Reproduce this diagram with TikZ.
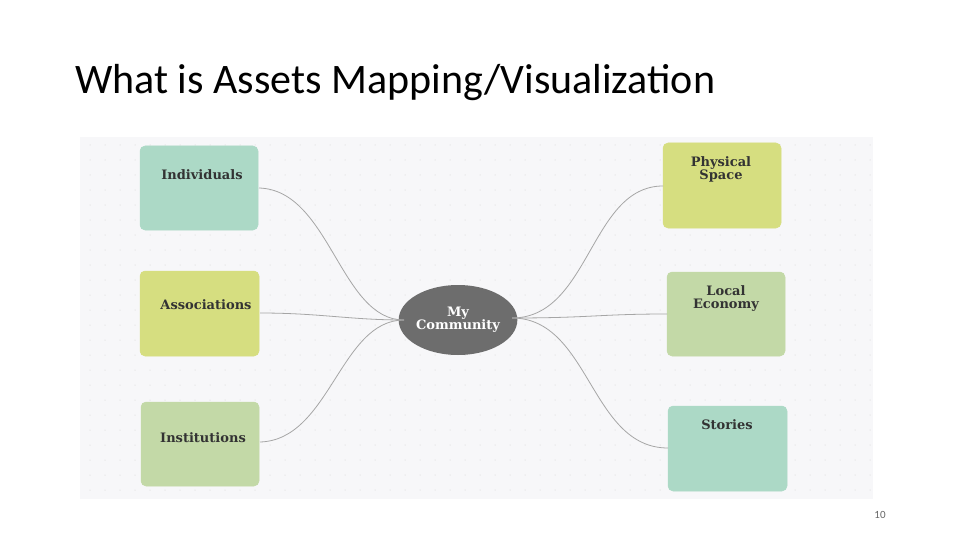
\documentclass[tikz,border=0pt]{standalone}
\usepackage{fontspec}
\usetikzlibrary{shapes.geometric}
\setmainfont{Carlito}
\newfontfamily\boxfont{DejaVu Serif}
\definecolor{teal1}{HTML}{ACD9C6}
\definecolor{ylw}{HTML}{D6DE80}
\definecolor{grn}{HTML}{C3D9A7}
\definecolor{panel}{HTML}{F7F7F9}
\definecolor{cgray}{HTML}{6D6D6D}
\begin{document}
\begin{tikzpicture}[x=1pt,y=-1pt,
  box/.style={rounded corners=5pt,draw=white,line width=0.5pt},
  lbl/.style={font=\boxfont\bfseries\fontsize{13}{13}\selectfont,text=black!80,align=center},
  conn/.style={draw=black!35,line width=0.8pt}]
\useasboundingbox (0,0) rectangle (960,540);
\fill[white] (0,0) rectangle (960,540);
\fill[panel] (80,137) rectangle (873,499);
\foreach \x in {90,105,...,870}{\foreach \y in {145,160,...,495}{\fill[black!18] (\x,\y) circle (0.5);}}
\node[anchor=base west,font=\fontsize{42}{46}\selectfont,inner sep=0pt] (title) at (75,94) {What is Assets Mapping/Visualization};
\node[font=\fontsize{11}{12}\selectfont,text=black!60] (pg) at (880,515) {10};
\fill[box,teal1] (140,146) rectangle (258,230);
\fill[box,ylw] (140,271) rectangle (259,356);
\fill[box,grn] (141,402) rectangle (259,486);
\fill[box,ylw] (663,143) rectangle (781,228);
\fill[box,grn] (667,272) rectangle (785,356);
\fill[box,teal1] (668,406) rectangle (787,491);
\node[lbl] (ind) at (202,175) {Individuals};
\node[lbl] (ass) at (206,305) {Associations};
\node[lbl] (ins) at (203,438) {Institutions};
\node[lbl] (phy) at (721,169) {Physical\\Space};
\node[lbl] (loc) at (726,299) {Local\\Economy};
\node[lbl] (sto) at (727,425) {Stories};
\node[lbl,ellipse,fill=cgray,minimum width=104pt,minimum height=70pt,inner sep=0pt,text=white] (c) at (458,320) {My\\Community};
\coordinate (a1) at (259,188);
\coordinate (a2) at (260,313);
\coordinate (a3) at (260,442);
\coordinate (b1) at (663,186);
\coordinate (b2) at (667,314);
\coordinate (b3) at (668,448);
\coordinate (cl) at (404,320);
\coordinate (cr) at (512,318);
\draw[conn] (a1) .. controls (330,190) and (340,320) .. (cl);
\draw[conn] (a2) .. controls (320,313) and (350,320) .. (cl);
\draw[conn] (a3) .. controls (330,440) and (340,320) .. (cl);
\draw[conn] (cr) .. controls (590,318) and (590,186) .. (b1);
\draw[conn] (cr) .. controls (590,318) and (600,314) .. (b2);
\draw[conn] (cr) .. controls (590,318) and (590,448) .. (b3);
\end{tikzpicture}
\end{document}
